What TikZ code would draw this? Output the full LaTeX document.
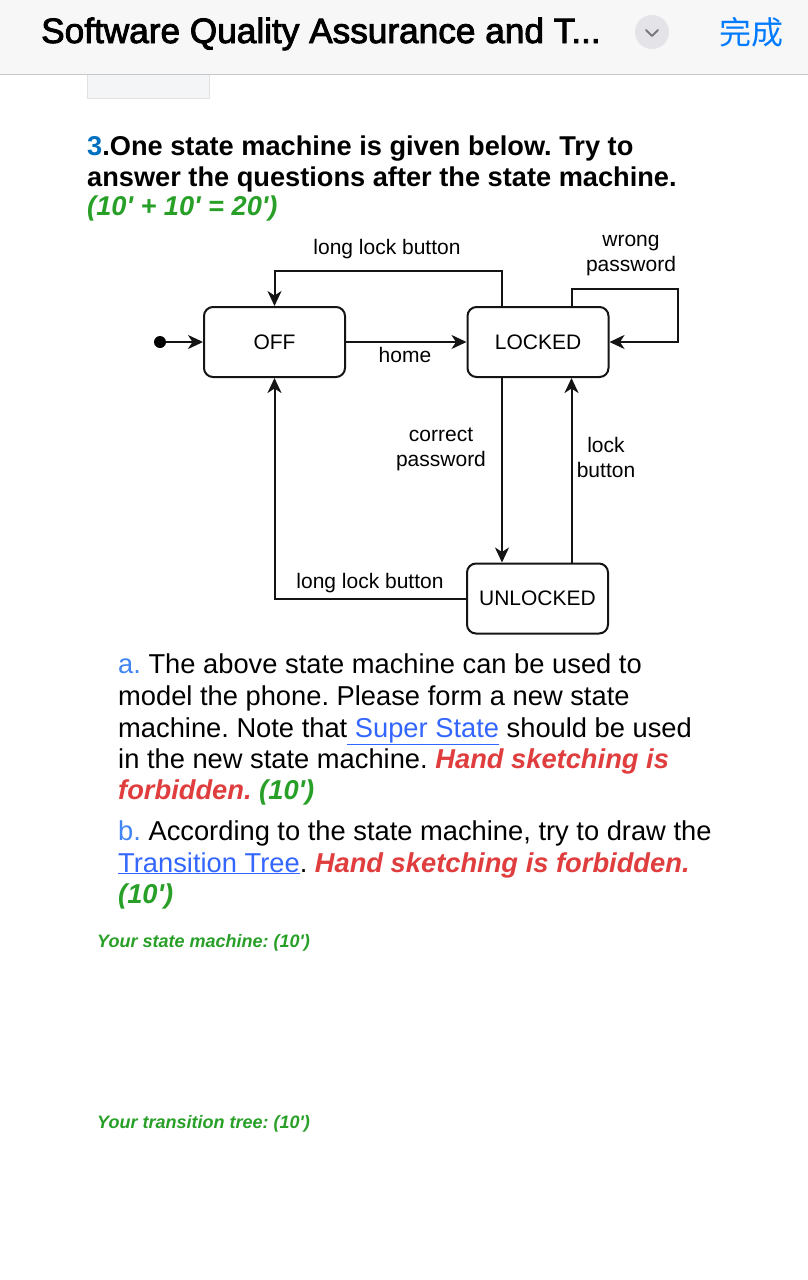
\documentclass[tikz,border=0pt]{standalone}
\usepackage{fontspec}
\setmainfont{Liberation Sans}
\newfontfamily\cjk{Noto Sans CJK SC}
\newfontfamily\hdrfont{Liberation Sans}[FakeBold=2.5]
\usetikzlibrary{arrows.meta}
\definecolor{hdrbg}{RGB}{247,247,247}
\definecolor{hdrline}{RGB}{200,200,200}
\definecolor{chevbg}{RGB}{227,227,232}
\definecolor{chevfg}{RGB}{120,120,125}
\definecolor{iosblue}{RGB}{0,122,255}
\definecolor{qblue}{RGB}{0,112,192}
\definecolor{lblue}{RGB}{66,133,244}
\definecolor{linkblue}{RGB}{51,102,255}
\definecolor{qred}{RGB}{224,62,62}
\definecolor{qgreen}{RGB}{40,160,40}
\definecolor{boxbg}{RGB}{244,245,247}
\definecolor{boxline}{RGB}{225,225,228}
\definecolor{diag}{RGB}{20,20,20}
\newcommand{\q}{\textquotesingle}
\frenchspacing
\begin{document}
\begin{tikzpicture}[x=1pt,y=-1pt,
  state/.style={draw=diag, line width=2pt, rounded corners=9pt, minimum width=141pt, minimum height=70pt, font=\fontsize{21}{25}\selectfont, inner sep=0pt},
  arr/.style={draw=diag, line width=2pt, -{Stealth[length=15pt,width=14pt,inset=4.5pt]}},
  lbl/.style={font=\fontsize{21}{25}\selectfont, align=center, inner sep=0pt},
  body/.style={font=\fontsize{27.3}{32}\selectfont, anchor=base west, inner sep=0pt},
  ttl/.style={font=\bfseries\fontsize{27.2}{32}\selectfont, anchor=base west, inner sep=0pt},
  small/.style={font=\bfseries\itshape\fontsize{18}{22}\selectfont, text=qgreen, anchor=base west, inner sep=0pt}]
\useasboundingbox (0,0) rectangle (808,1280);
\fill[white] (0,0) rectangle (808,1280);
% small box under header
\draw[fill=boxbg, draw=boxline, line width=1pt] (87,70) rectangle (209,98);
% header
\fill[hdrbg] (0,0) rectangle (808,74);
\draw[hdrline, line width=1pt] (0,74) -- (808,74);
\node[anchor=base west, inner sep=0pt, font=\hdrfont\fontsize{35.2}{40}\selectfont] (hdr) at (41,43) {Software Quality Assurance and T...};
\node[circle, fill=chevbg, minimum size=34pt, inner sep=0pt] (chev) at (652,32) {};
\draw[chevfg, line width=2pt, line cap=round, line join=round] ([shift={(-6,-2)}]chev.center) -- ([shift={(0,4)}]chev.center) -- ([shift={(6,-2)}]chev.center);
\node[font=\cjk\fontsize{32}{36}\selectfont, text=iosblue, inner sep=0pt] (done) at (751,32) {完成};
% question title
\node[ttl] (t1) at (87,155) {\textcolor{qblue}{3}.One state machine is given below. Try to};
\node[ttl] (t2) at (87,186) {answer the questions after the state machine.};
\node[ttl, font=\bfseries\itshape\fontsize{27.2}{32}\selectfont, text=qgreen] (t3) at (87,215) {(10\q{} + 10\q{} = 20\q)};
% state machine
\node[state] (OFF) at (274.5,342) {OFF};
\node[state] (LOCKED) at (538,342) {LOCKED};
\node[state] (UNLOCKED) at (537.5,598.5) {UNLOCKED};
\node[circle, fill=black, minimum size=12pt, inner sep=0pt] (init) at (160,342) {};
\draw[arr] (init) -- (OFF.west);
\draw[arr] (OFF.east) -- (LOCKED.west);
\draw[arr] ([xshift=-36pt]LOCKED.north) -- ++(0,-35) -| (OFF.north);
\draw[arr] ([xshift=34pt]LOCKED.north) |- (678,289) |- (LOCKED.east);
\draw[arr] ([xshift=-36pt]LOCKED.south) -- ([xshift=-36pt]LOCKED.south |- UNLOCKED.north);
\draw[arr] ([xshift=34pt]UNLOCKED.north) -- ([xshift=34pt]UNLOCKED.north |- LOCKED.south);
\draw[arr] (UNLOCKED.west) -| (OFF.south);
\node[lbl] (l1) at (387,249) {long lock button};
\node[lbl] (l2) at (405,355) {home};
\node[lbl] (l3) at (631,256) {wrong\\password};
\node[lbl] (l4) at (441,449) {correct\\password};
\node[lbl] (l5) at (606,457) {lock\\button};
\node[lbl] (l6) at (370,583) {long lock button};
% questions
\node[body] (a1) at (118,673) {\textcolor{lblue}{a.} The above state machine can be used to};
\node[body] (a2) at (118,705) {model the phone. Please form a new state};
\node[body] (a3) at (118,737) {machine. Note that\textcolor{linkblue}{\underline{\ Super State}} should be used};
\node[body] (a4) at (118,768) {in the new state machine. \textcolor{qred}{\bfseries\itshape Hand sketching is}};
\node[body] (a5) at (118,799) {\textcolor{qred}{\bfseries\itshape forbidden.} \textcolor{qgreen}{\bfseries\itshape (10\q)}};
\node[body] (b1) at (118,840) {\textcolor{lblue}{b.} According to the state machine, try to draw the};
\node[body] (b2) at (118,872) {\textcolor{linkblue}{\underline{Transition Tree}}. \textcolor{qred}{\bfseries\itshape Hand sketching is forbidden.}};
\node[body] (b3) at (118,903) {\textcolor{qgreen}{\bfseries\itshape (10\q)}};
\node[small] (y1) at (97,947) {Your state machine: (10\q)};
\node[small] (y2) at (97,1128) {Your transition tree: (10\q)};
\end{tikzpicture}
\end{document}
